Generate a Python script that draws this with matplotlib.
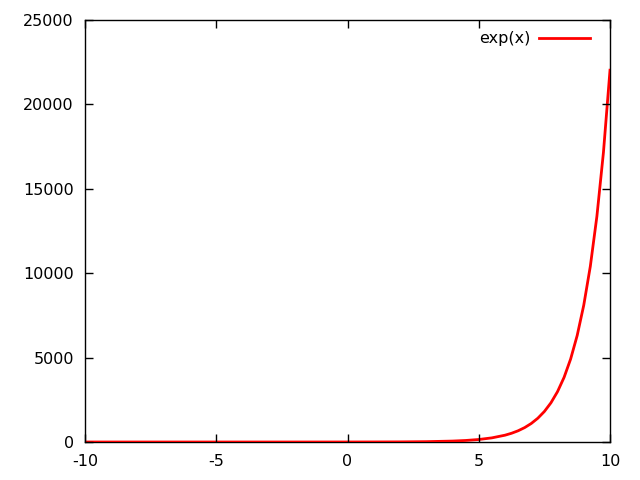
import matplotlib
matplotlib.use("Agg")
import matplotlib.pyplot as plt

x_vals = [-10, -8, -6, -4, -2, 0, 1, 2, 3, 4, 4.5, 5, 5.5, 6, 6.25, 6.5, 6.75,
          7, 7.25, 7.5, 7.75, 8, 8.25, 8.5, 8.75, 9, 9.25, 9.5, 9.75, 10]
y_vals = [0, 0, 0, 0, 0, 1, 3, 7, 20, 55, 90, 148, 245, 403, 518, 665, 854,
          1097, 1408, 1808, 2322, 2981, 3827, 4915, 6310, 8103, 10405, 13360, 17154, 22026]
series_label = "exp(x)"
x_ticks = [-10, -5, 0, 5, 10]
y_ticks = [0, 5000, 10000, 15000, 20000, 25000]

plt.rcParams['font.family'] = ['DejaVu Sans']
fig = plt.figure(figsize=(6.4, 4.8), dpi=100)
ax = fig.add_axes([85/640, 38/480, 525/640, 422/480])
ax.plot(x_vals, y_vals, color='#ff0000', lw=2.0, label=series_label, zorder=1)
ax.set_xlim(-10, 10)
ax.set_ylim(0, 25000)
ax.set_xticks(x_ticks)
ax.set_yticks(y_ticks)
ax.set_xticklabels([str(t) for t in x_ticks])
ax.set_yticklabels([str(t) for t in y_ticks])
ax.tick_params(direction='in', length=6, width=1, top=True, right=True,
               labelsize=11.5, pad=8)
ax.tick_params(axis='x', pad=9)
for s in ax.spines.values():
    s.set_linewidth(1)
    s.set_zorder(0.5)
leg = ax.legend(loc='upper right', frameon=False, handlelength=3.2,
                markerfirst=False, fontsize=11.5, borderaxespad=0.3,
                handletextpad=0.5, bbox_to_anchor=(1 - 9/525, 1.0))
fig.savefig("out.png", dpi=100)
